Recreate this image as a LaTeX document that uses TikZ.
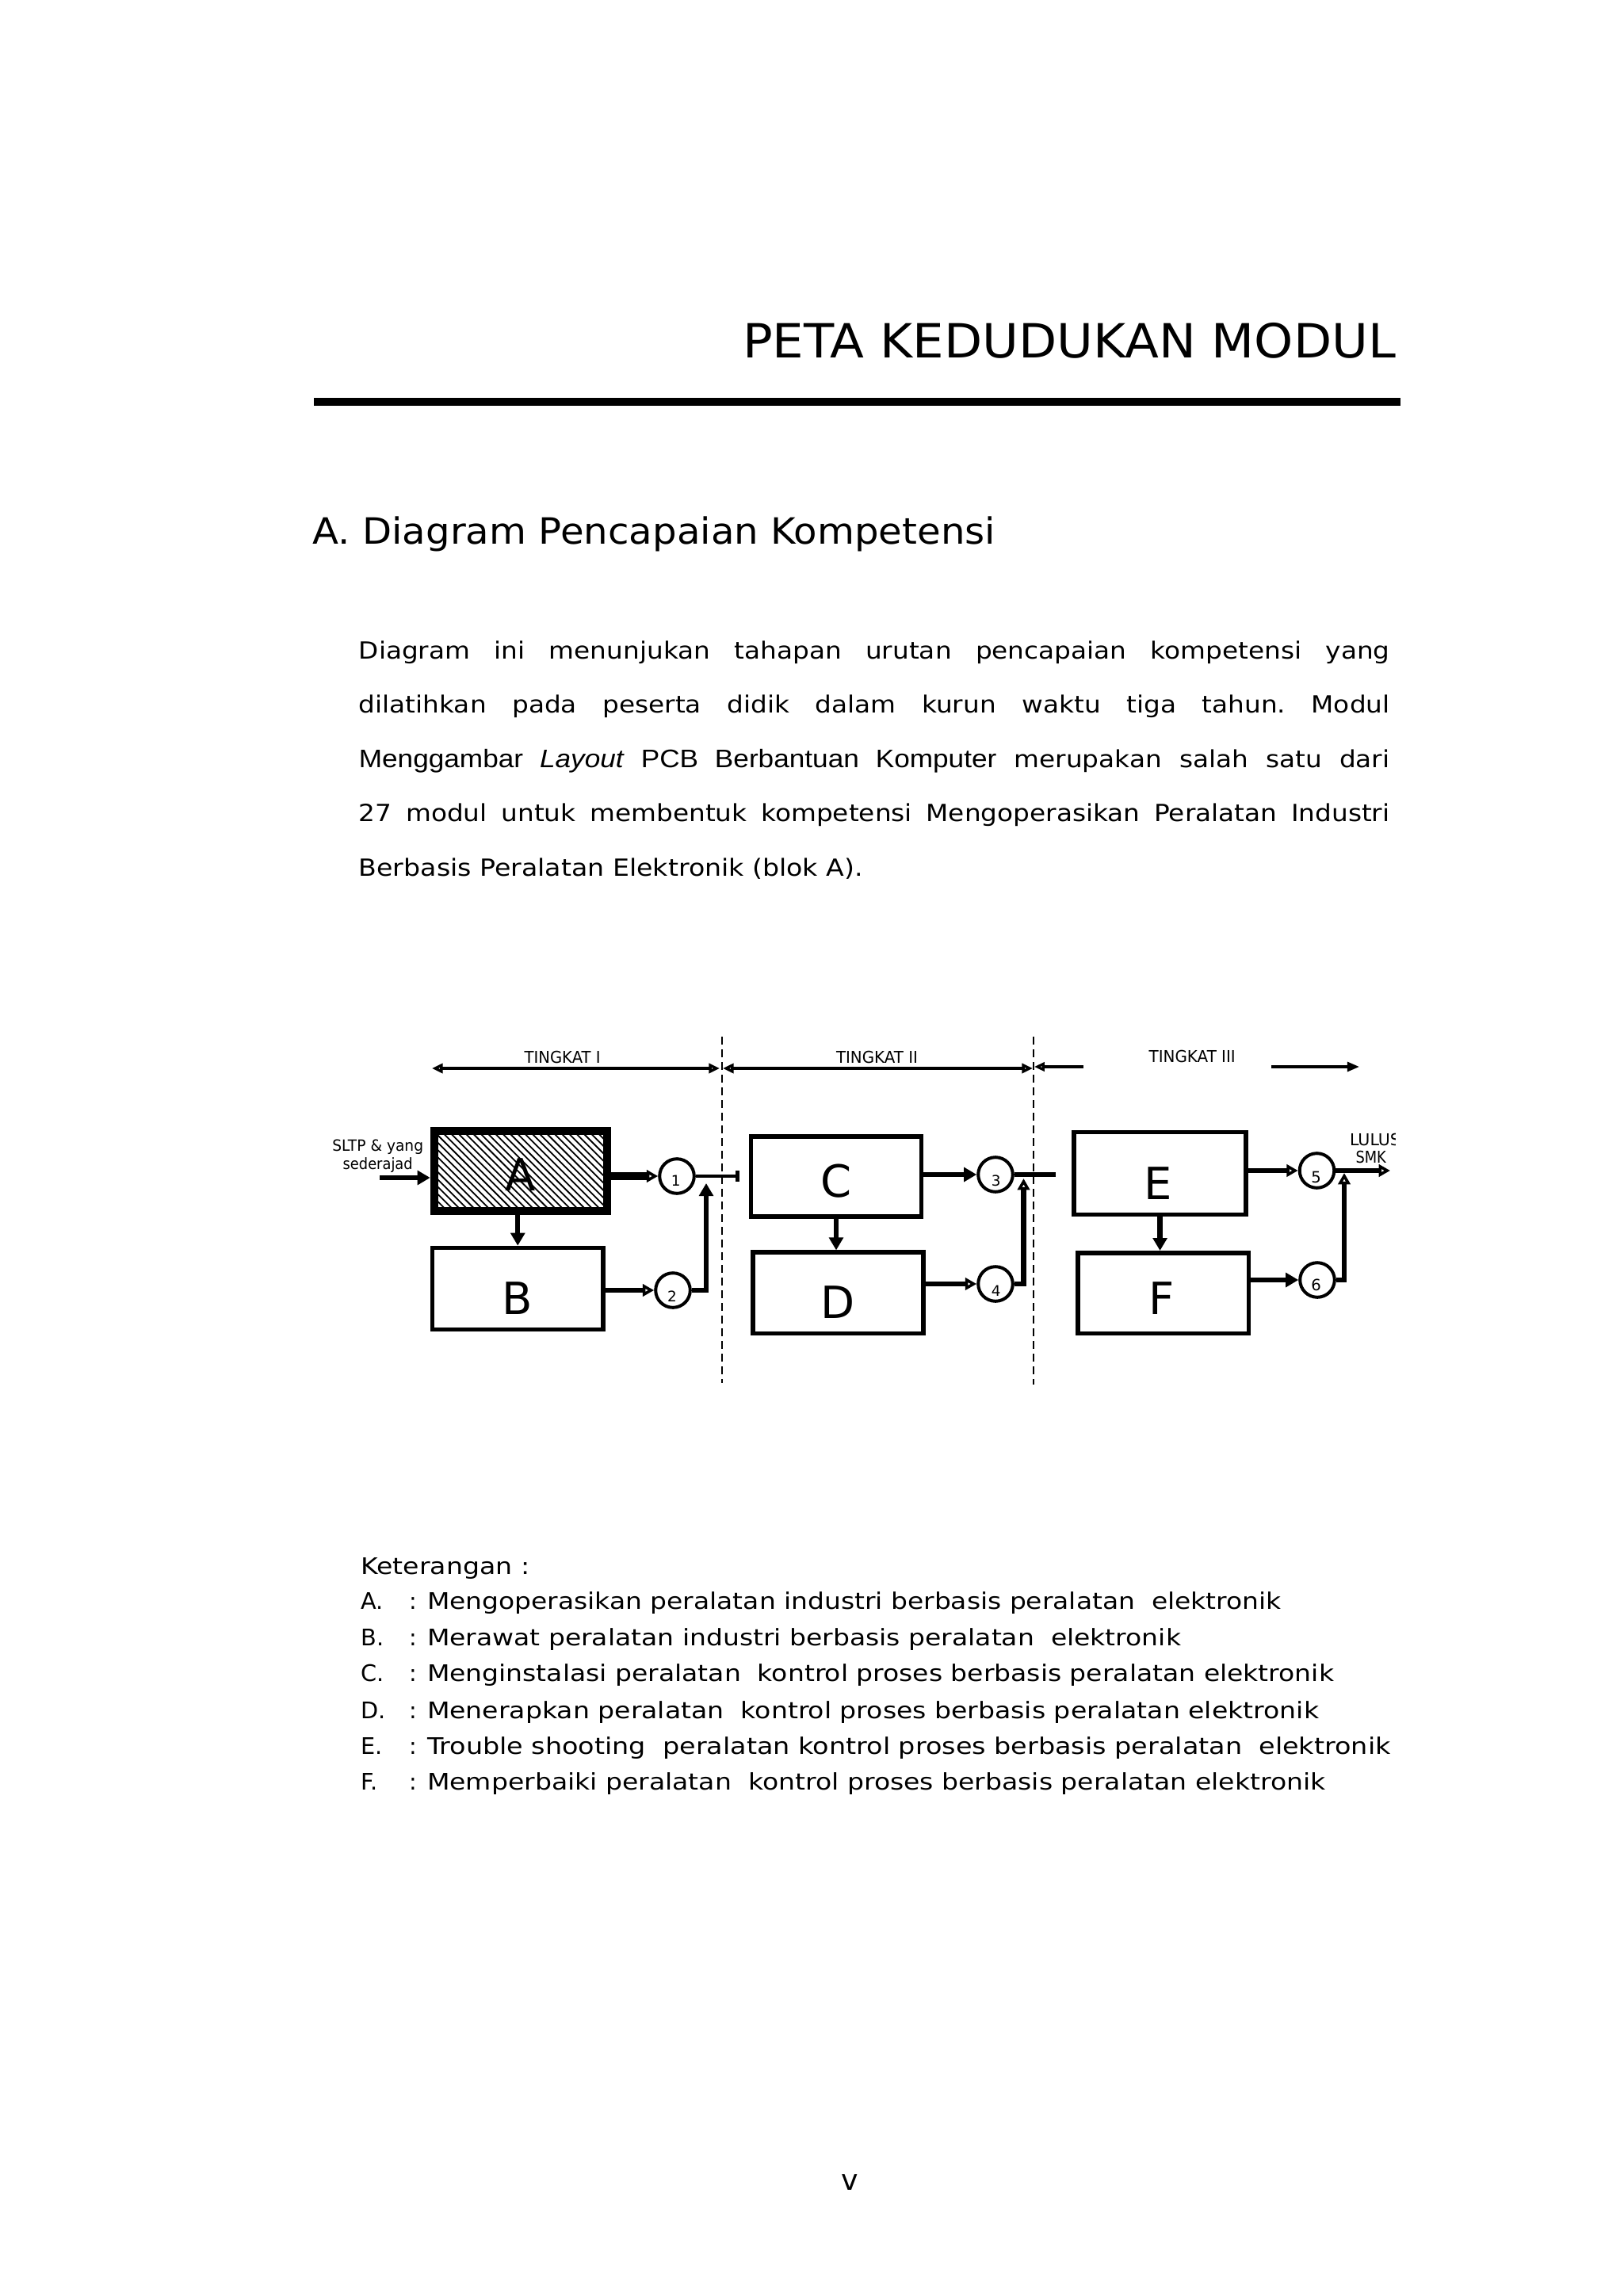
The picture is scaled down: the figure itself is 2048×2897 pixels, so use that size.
\documentclass[tikz,border=0pt]{standalone}
\usepackage{graphicx}
\usepackage{fontspec}
\setmainfont{DejaVu Sans}
\newfontfamily\arialf{Liberation Sans}
\usetikzlibrary{arrows.meta,calc}
\newcommand{\fitw}[2]{\resizebox{#1}{\height}{#2}}
\newcommand{\setfs}[1]{\fontsize{#1}{#1}\selectfont}
\frenchspacing
\begin{document}
\begin{tikzpicture}[x=0.25pt,y=-0.25pt,
  txt/.style={inner sep=0pt, outer sep=0pt, anchor=base west},
  ctxt/.style={inner sep=0pt, outer sep=0pt, anchor=base},
  box/.style={draw, line width=1.4pt, inner sep=0pt},
  circ/.style={draw, circle, line width=1pt, minimum size=10.9pt, inner sep=0pt},
  arrF/.style={line width=1.6pt, -{Triangle[length=4pt,width=4.4pt]}},
  arrO/.style={line width=1.6pt, -{Triangle[open,length=3.6pt,width=3.8pt]}},
  dimO/.style={line width=0.95pt, {Triangle[open,length=3.4pt,width=3pt]}-{Triangle[open,length=3.4pt,width=3pt]}},
  dimL/.style={line width=0.8pt, -{Triangle[open,length=3.2pt,width=2.8pt]}},
  dimF/.style={line width=0.8pt, -{Triangle[length=3.8pt,width=3pt]}},
  dashv/.style={line width=0.65pt, dash pattern=on 2.6pt off 1.4pt},
  hatch/.style={line width=0.45pt},
  ln/.style={line width=1.2pt}
]
\useasboundingbox (0,0) rectangle (2048,2897);
\fill[white] (0,0) rectangle (2048,2897);

% ---------- header ----------
\node[txt] (title) at (937,451.7) {\setfs{14.85pt}\fitw{206pt}{PETA KEDUDUKAN MODUL}};
\coordinate (r1) at (396,507);
\coordinate (r2) at (1767,507);
\draw[line width=2.675pt] (r1) -- (r2);

\node[txt] (head) at (394.6,686.7) {\setfs{11.42pt}\fitw{215.35pt}{A. Diagram Pencapaian Kompetensi}};

% ---------- paragraph ----------
\node[txt] (p1) at (452.8,831.7) {\setfs{7.44pt}\scalebox{1.1}[1]{\makebox[295.6pt][s]{Diagram ini menunjukan tahapan urutan pencapaian kompetensi yang}}};
\node[txt] (p2) at (452.8,900) {\setfs{7.44pt}\scalebox{1.1}[1]{\makebox[295.6pt][s]{dilatihkan pada peserta didik dalam kurun waktu tiga tahun. Modul}}};
\node[txt] (p3) at (452.8,968.3) {\setfs{7.44pt}\scalebox{1.1}[1]{\makebox[295.6pt][s]{{\arialf\setfs{8pt}Menggambar \textit{Layout} PCB Berbantuan Komputer} merupakan salah satu dari}}};
\node[txt] (p4) at (452.8,1036.7) {\setfs{7.44pt}\scalebox{1.1}[1]{\makebox[295.6pt][s]{27 modul untuk membentuk kompetensi Mengoperasikan Peralatan Industri}}};
\node[txt] (p5) at (452.8,1105) {\setfs{7.44pt}\fitw{159pt}{Berbasis Peralatan Elektronik (blok A).}};

% ---------- diagram: level arrows ----------
\coordinate (t1a) at (545,1348);
\coordinate (t1b) at (908,1348);
\coordinate (t2a) at (912,1348);
\coordinate (t2b) at (1303,1348);
\coordinate (t3a) at (1305,1346);
\coordinate (t3s) at (1367,1346);
\coordinate (t3r) at (1604,1346);
\coordinate (t3e) at (1715,1346);
\draw[dimO] (t1a) -- (t1b);
\draw[dimO] (t2a) -- (t2b);
\draw[dimL] (t3s) -- (t3a);
\draw[dimF] (t3r) -- (t3e);
\node[txt] (tk1) at (661.6,1341.7) {\setfs{5.15pt}\fitw{24pt}{TINGKAT I}};
\node[txt] (tk2) at (1055,1341.7) {\setfs{5.15pt}\fitw{25.75pt}{TINGKAT II}};
\node[txt] (tk3) at (1449.6,1340) {\setfs{5.15pt}\fitw{27.3pt}{TINGKAT III}};

% dashed separators
\coordinate (dv1a) at (911,1308);
\coordinate (dv1b) at (911,1745);
\coordinate (dv2a) at (1304,1308);
\coordinate (dv2b) at (1304,1747);
\draw[dashv] (dv1a) -- (dv1b);
\draw[dashv] (dv2a) -- (dv2b);

% ---------- boxes ----------
\node[box, line width=2.5pt, minimum width=54.5pt, minimum height=25.4pt] (A) at (656.7,1477.5) {};
\begin{scope}
  \clip (552.3,1431.7) rectangle (761,1524);
  \foreach \k in {0,...,34} {
    \draw[hatch] ({452+\k*9.3},1425) -- ++(112,112);
  }
\end{scope}
\node[box, minimum width=53.875pt, minimum height=25.75pt] (B) at (653.25,1626) {};
\node[box, minimum width=53.75pt, minimum height=25.15pt] (C) at (1055,1484.5) {};
\node[box, minimum width=53.65pt, minimum height=25.575pt] (D) at (1057.5,1631.35) {};
\node[box, minimum width=54.175pt, minimum height=26pt] (E) at (1463.55,1480.5) {};
\node[box, minimum width=53.925pt, minimum height=25.425pt] (F) at (1467.65,1631.65) {};

\node[ctxt] (lA) at (657,1502) {\setfs{14pt}A};
\node[ctxt] (lB) at (652.7,1658.3) {\setfs{14pt}B};
\node[ctxt] (lC) at (1055,1510) {\setfs{14pt}C};
\node[ctxt] (lD) at (1057,1663) {\setfs{14pt}D};
\node[ctxt] (lE) at (1461,1513.3) {\setfs{14pt}E};
\node[ctxt] (lF) at (1465.6,1658) {\setfs{14pt}F};

% ---------- circles ----------
\node[circ] (c1) at (854,1484) {};
\node[circ] (c2) at (849,1628) {};
\node[circ] (c3) at (1256,1482) {};
\node[circ] (c4) at (1256,1620) {};
\node[circ] (c5) at (1661.5,1477) {};
\node[circ] (c6) at (1662,1615) {};
\node[ctxt] (n1) at (852.6,1496.7) {\setfs{4.6pt}1};
\node[ctxt] (n2) at (848,1642.7) {\setfs{4.6pt}2};
\node[ctxt] (n3) at (1256.6,1496) {\setfs{4.6pt}3};
\node[ctxt] (n4) at (1256.6,1635) {\setfs{4.6pt}4};
\node[ctxt] (n5) at (1660.6,1492.3) {\setfs{4.9pt}5};
\node[ctxt] (n6) at (1660.6,1628.3) {\setfs{4.9pt}6};

% ---------- input / output labels ----------
\node[txt] (sl1) at (419.3,1452.7) {\setfs{4.9pt}\fitw{28.7pt}{SLTP \& yang}};
\node[txt] (sl2) at (432.7,1475) {\setfs{4.9pt}\fitw{22pt}{sederajad}};
\begin{scope}
  \clip (1690,1400) rectangle (1760,1452);
  \node[txt] (lulus) at (1703,1445) {\setfs{5.15pt}\fitw{16pt}{LULUS}};
\end{scope}
\node[txt] (smk) at (1710.5,1467.3) {\setfs{5.15pt}\fitw{9.6pt}{SMK}};

% ---------- connectors ----------
\coordinate (sltpin) at (479,1486);
\draw[arrF] (sltpin) -- (sltpin -| A.west);
\draw[arrO, line width=2.4pt] (A.east |- c1) -- (c1);
\coordinate (e1) at (933,1484);
\draw[ln, -{Bar[width=3.4pt]}] (c1.east) -- (e1);
\draw[arrF] (A.south -| B.north) -- (B.north);
\draw[arrO] (B.east |- c2) -- (c2);
\coordinate (j1) at (891,1493);
\draw[arrF] (c2.east) -| (j1);

\draw[arrF] (C.east |- c3) -- (c3);
\coordinate (e3) at (1331.5,1482);
\draw[ln, line width=1.5pt] (c3.east) -- (e3);
\draw[arrF] (C.south) -- (C.south |- D.north);
\draw[arrO] (D.east |- c4) -- (c4);
\coordinate (j2) at (1291.5,1487);
\draw[arrO] (c4.east) -| (j2);

\draw[arrF] (E.south) -- (E.south |- F.north);
\draw[arrO] (E.east |- c5) -- (c5);
\draw[arrF] (F.east |- c6) -- (c6);
\coordinate (j3) at (1696,1480);
\draw[arrO] (c6.east) -| (j3);
\coordinate (out5) at (1754,1477);
\draw[arrO] (c5.east) -- (out5);

% ---------- legend ----------
\node[txt] (ket) at (455.5,1986) {\setfs{7.2pt}\fitw{53.2pt}{Keterangan :}};
\node[txt] (kA) at (455.5,2030) {\setfs{7.2pt}A.};
\node[txt] (qA) at (516,2030) {\setfs{7.2pt}:};
\node[txt] (tA) at (539,2030) {\setfs{7.2pt}\fitw{269.4pt}{Mengoperasikan peralatan industri berbasis peralatan\ \ elektronik}};
\node[txt] (kB) at (455.5,2076.7) {\setfs{7.2pt}B.};
\node[txt] (qB) at (516,2076.7) {\setfs{7.2pt}:};
\node[txt] (tB) at (539,2076.7) {\setfs{7.2pt}\fitw{237.75pt}{Merawat peralatan industri berbasis peralatan\ \ elektronik}};
\node[txt] (kC) at (455.5,2121.7) {\setfs{7.2pt}C.};
\node[txt] (qC) at (516,2121.7) {\setfs{7.2pt}:};
\node[txt] (tC) at (539,2121.7) {\setfs{7.2pt}\fitw{286pt}{Menginstalasi peralatan\ \ kontrol proses berbasis peralatan elektronik}};
\node[txt] (kD) at (455.5,2168.3) {\setfs{7.2pt}D.};
\node[txt] (qD) at (516,2168.3) {\setfs{7.2pt}:};
\node[txt] (tD) at (539,2168.3) {\setfs{7.2pt}\fitw{281.25pt}{Menerapkan peralatan\ \ kontrol proses berbasis peralatan elektronik}};
\node[txt] (kE) at (455.5,2213.3) {\setfs{7.2pt}E.};
\node[txt] (qE) at (516,2213.3) {\setfs{7.2pt}:};
\node[txt] (tE) at (539,2213.3) {\setfs{7.2pt}\fitw{303.9pt}{Trouble shooting\ \ peralatan kontrol proses berbasis peralatan\ \ elektronik}};
\node[txt] (kF) at (455.5,2258.3) {\setfs{7.2pt}F.};
\node[txt] (qF) at (516,2258.3) {\setfs{7.2pt}:};
\node[txt] (tF) at (539,2258.3) {\setfs{7.2pt}\fitw{283.4pt}{Memperbaiki peralatan\ \ kontrol proses berbasis peralatan elektronik}};

% ---------- page number ----------
\node[ctxt] (pg) at (1072.5,2763.3) {\setfs{9.1pt}v};
\end{tikzpicture}
\end{document}
